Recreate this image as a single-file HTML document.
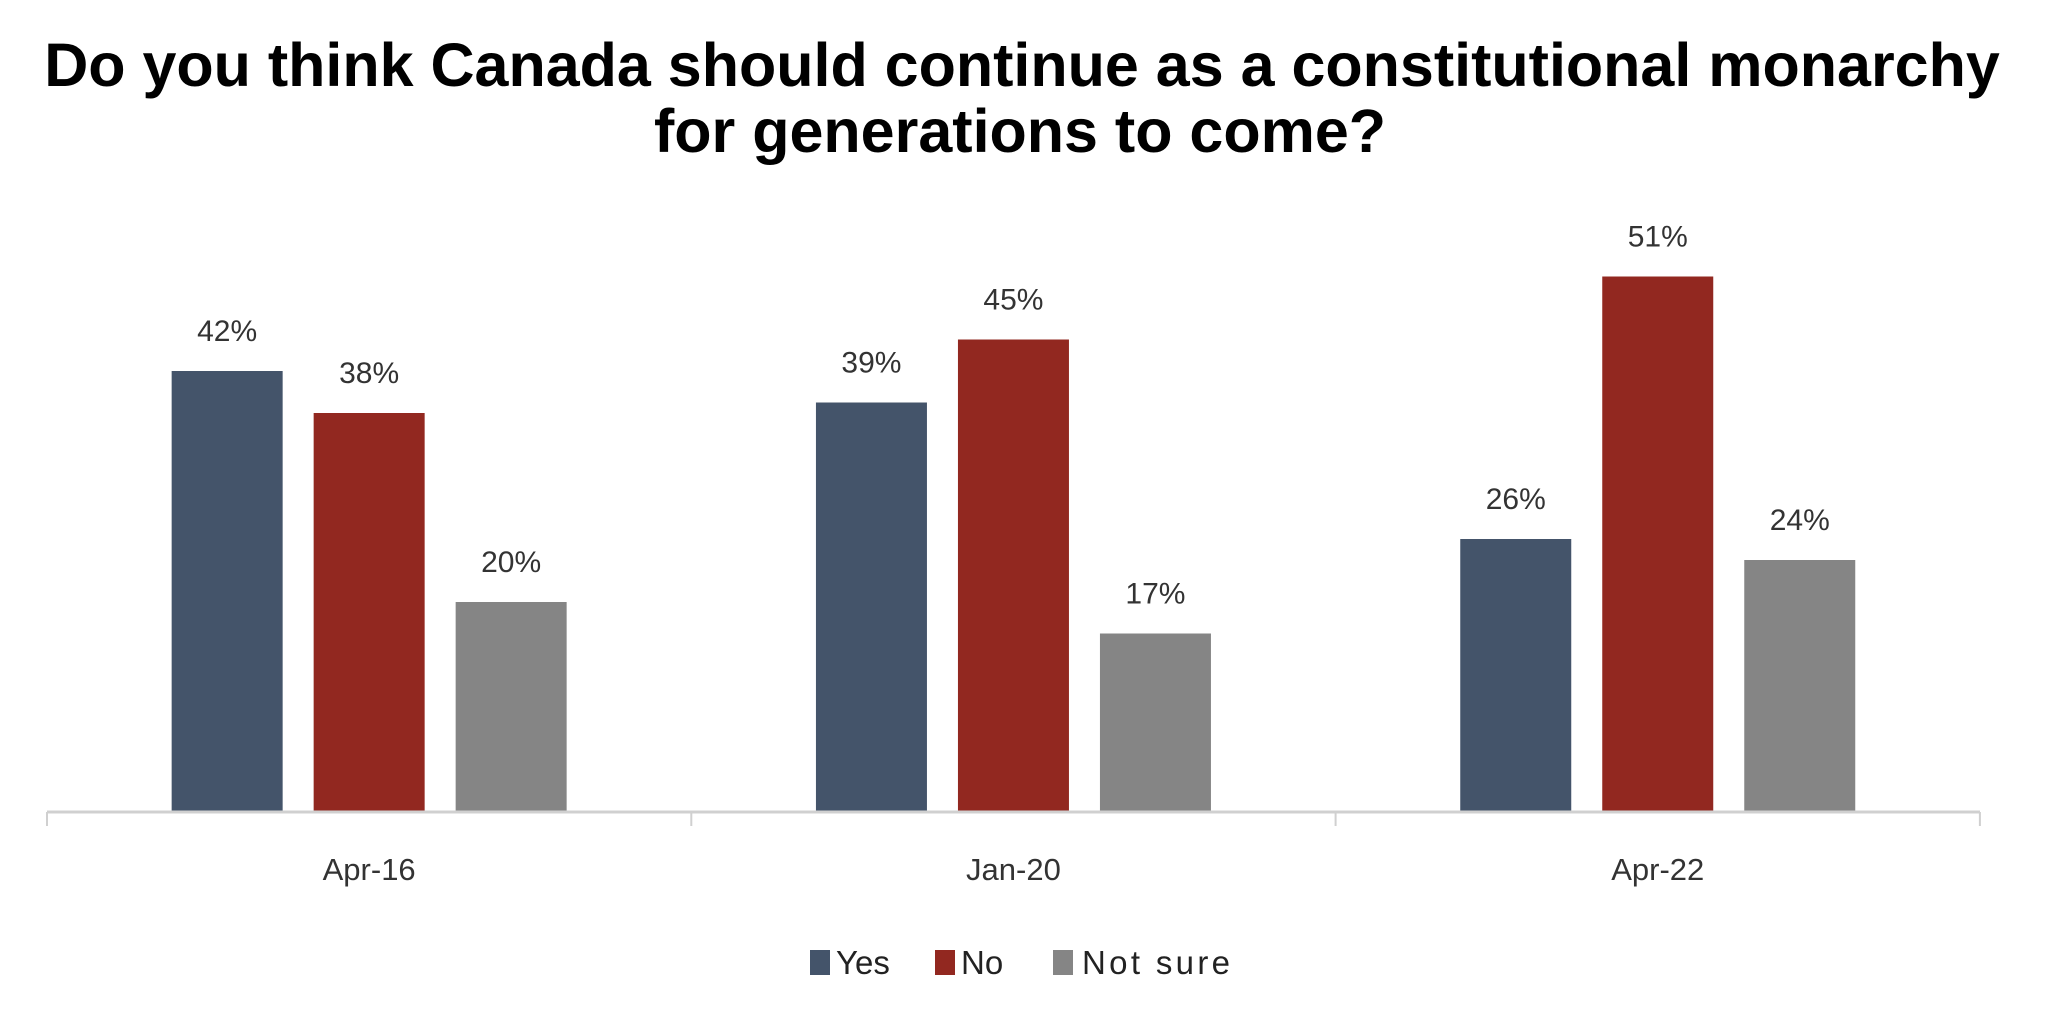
<!DOCTYPE html>
<html><head><meta charset="utf-8"><style>
body{margin:0;background:#fff;}
svg text{font-family:"Liberation Sans",sans-serif;}
</style></head><body>
<svg id="chart" width="2048" height="1015" viewBox="0 0 2048 1015" xmlns="http://www.w3.org/2000/svg">
<text x="1022" y="86" text-anchor="middle" font-size="61" font-weight="bold" fill="#000">Do you think Canada should continue as a constitutional monarchy</text>
<text x="1020" y="152" text-anchor="middle" font-size="61" font-weight="bold" fill="#000">for generations to come?</text>
<g id="bars"></g>
<line x1="47" y1="812" x2="1980" y2="812" stroke="#d0d0d0" stroke-width="3"/>
<g id="ticks"></g>
<g>
<rect x="810" y="950" width="20" height="25" fill="#44546a"/>
<text x="836" y="974" font-size="33" fill="#222">Yes</text>
<rect x="935" y="950" width="20" height="25" fill="#922820"/>
<text x="961" y="974" font-size="33" fill="#222">No</text>
<rect x="1053" y="950" width="20" height="25" fill="#858585"/>
<text x="1082" y="974" font-size="33" fill="#222" textLength="148">Not sure</text>
</g>
</svg>
<script>
const categories = ["Apr-16", "Jan-20", "Apr-22"];
const seriesNames = ["Yes", "No", "Not sure"];
const yesValues = [42, 39, 26];
const noValues = [38, 45, 51];
const notSureValues = [20, 17, 24];
const colors = ["#44546a", "#922820", "#858585"];
const NS = "http://www.w3.org/2000/svg";
const axisY = 812, pxPerPct = 10.5, left = 47, catW = 644.3, barW = 111, step = 142;
function yScale(v){ return axisY - v * pxPerPct; }
function xCat(i){ return left + catW * (i + 0.5); }
const barsG = document.getElementById("bars");
const ticksG = document.getElementById("ticks");
const series = [yesValues, noValues, notSureValues];
categories.forEach((c, i) => {
  series.forEach((vals, s) => {
    const cx = xCat(i) + (s - 1) * step;
    const r = document.createElementNS(NS, "rect");
    
    
    r.setAttribute("x", cx - barW / 2);
    r.setAttribute("y", yScale(vals[i]));
    r.setAttribute("width", barW);
    r.setAttribute("height", axisY - yScale(vals[i]));
    r.setAttribute("fill", colors[s]);
    barsG.appendChild(r);
    const t = document.createElementNS(NS, "text");
    
    
    t.setAttribute("x", cx);
    t.setAttribute("y", yScale(vals[i]) - 30);
    t.setAttribute("text-anchor", "middle");
    t.setAttribute("font-size", "30");
    t.setAttribute("fill", "#333");
    t.textContent = vals[i] + "%";
    barsG.appendChild(t);
  });
  const lab = document.createElementNS(NS, "text");
  
  
  lab.setAttribute("x", xCat(i));
  lab.setAttribute("y", 880);
  lab.setAttribute("text-anchor", "middle");
  lab.setAttribute("font-size", "31");
  lab.setAttribute("fill", "#333");
  lab.textContent = c;
  ticksG.appendChild(lab);
});
for (let i = 0; i <= categories.length; i++) {
  const l = document.createElementNS(NS, "line");
  
  
  const x = left + catW * i;
  l.setAttribute("x1", x); l.setAttribute("x2", x);
  l.setAttribute("y1", axisY); l.setAttribute("y2", axisY + 14);
  l.setAttribute("stroke", "#d0d0d0"); l.setAttribute("stroke-width", "2");
  ticksG.appendChild(l);
}
</script>
</body></html>
